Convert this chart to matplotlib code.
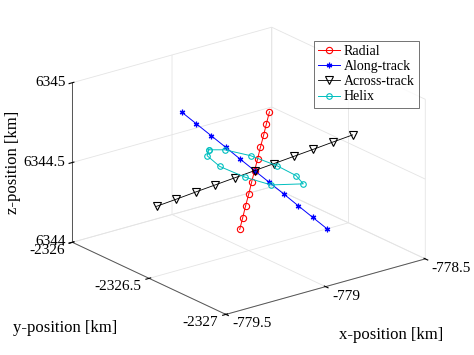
import numpy as np
import matplotlib
matplotlib.use('Agg')
import matplotlib.pyplot as plt
from matplotlib.ticker import FuncFormatter

# positions [km]
radial_x = [-778.914, -778.925, -778.937, -778.948, -778.960, -778.971,
            -778.982, -778.994, -779.005, -779.017, -779.028]
radial_y = [-2326.329, -2326.363, -2326.397, -2326.432, -2326.466, -2326.500,
            -2326.534, -2326.568, -2326.603, -2326.637, -2326.671]
radial_z = [6344.025, 6344.118, 6344.211, 6344.305, 6344.398, 6344.491,
            6344.584, 6344.677, 6344.771, 6344.864, 6344.957]

along_x = [-778.985, -778.982, -778.979, -778.976, -778.974, -778.971,
           -778.968, -778.965, -778.963, -778.960, -778.957]
along_y = [-2326.045, -2326.136, -2326.227, -2326.318, -2326.409, -2326.500,
           -2326.591, -2326.682, -2326.773, -2326.864, -2326.955]
along_z = [6344.656, 6344.623, 6344.590, 6344.557, 6344.524, 6344.491,
           6344.458, 6344.425, 6344.392, 6344.359, 6344.326]

across_x = [-779.458, -779.360, -779.263, -779.166, -779.068, -778.971,
            -778.874, -778.776, -778.679, -778.582, -778.484]
across_y = [-2326.494, -2326.495, -2326.496, -2326.497, -2326.499, -2326.500,
            -2326.501, -2326.503, -2326.504, -2326.505, -2326.506]
across_z = [6344.434, 6344.445, 6344.457, 6344.468, 6344.480, 6344.491,
            6344.502, 6344.514, 6344.525, 6344.537, 6344.548]

helix_x = [-779.045, -779.075, -779.075, -779.031, -778.972, -778.856,
           -778.847, -778.873, -778.924, -778.989, -779.045]
helix_y = [-2326.298, -2326.326, -2326.408, -2326.517, -2326.609, -2326.668,
           -2326.609, -2326.518, -2326.413, -2326.330, -2326.298]
helix_z = [6344.556, 6344.542, 6344.512, 6344.478, 6344.451, 6344.444,
           6344.466, 6344.496, 6344.529, 6344.551, 6344.556]

x_ticks = [-779.5, -779, -778.5]
y_ticks = [-2327, -2326.5, -2326]
z_ticks = [6344, 6344.5, 6345]

plt.rcParams['font.family'] = ['Liberation Serif', 'DejaVu Serif']
plt.rcParams['grid.color'] = '#e4e4e4'
plt.rcParams['grid.linewidth'] = 0.6
plt.rcParams['axes.edgecolor'] = '#555555'
plt.rcParams['axes.linewidth'] = 0.7

fig = plt.figure(figsize=(4.74, 3.55), dpi=100)
s = 355.0
ax = fig.add_axes([(244 - s / 2) / 474, (355 - 175.6 - s / 2) / 355, s / 474, s / 355],
                  projection='3d', proj_type='ortho')
ax.view_init(elev=21.2, azim=-127.6)
ax.set_box_aspect((1, 1, 0.68), zoom=1.08)

ax.plot(radial_x, radial_y, radial_z, color='r', lw=0.7, marker='o', ms=4.5,
        mfc='none', mew=0.8, label='Radial')
ax.plot(along_x, along_y, along_z, color='b', lw=0.7, marker=(6, 2, 0), ms=4,
        mew=0.9, label='Along-track')
ax.plot(across_x, across_y, across_z, color='k', lw=0.6, marker='v', ms=5.5,
        mfc='none', mew=0.8, label='Across-track')
ax.plot(helix_x, helix_y, helix_z, color='c', lw=0.7, marker='o', ms=4,
        mfc='none', mew=0.8, label='Helix')

ax.set_xlim(-779.5, -778.5)
ax.set_ylim(-2327, -2326)
ax.set_zlim(6344, 6345)
ax.set_xticks(x_ticks)
ax.set_yticks(y_ticks)
ax.set_zticks(z_ticks)
fmt = FuncFormatter(lambda v, p: f'{v:g}')
for axis in (ax.xaxis, ax.yaxis, ax.zaxis):
    axis.set_major_formatter(fmt)
    axis.set_pane_color((1, 1, 1, 0))
    axis.pane.set_edgecolor('#e4e4e4')
ax.tick_params(labelsize=11)
ax.xaxis.set_tick_params(pad=-2.5)
ax.yaxis.set_tick_params(pad=-3)
ax.zaxis.set_tick_params(pad=-5.5)
for lab in ax.xaxis.get_ticklabels():
    lab.set_horizontalalignment('left')
    lab.set_verticalalignment('center')
for lab in ax.yaxis.get_ticklabels():
    lab.set_horizontalalignment('right')
    lab.set_verticalalignment('center')
for lab in ax.zaxis.get_ticklabels():
    lab.set_horizontalalignment('right')
    lab.set_verticalalignment('center')
ax.grid(True)

fig.text(65 / 474, 1 - 328 / 355, 'y-position [km]', fontsize=12, ha='center', va='center')
fig.text(391 / 474, 1 - 335 / 355, 'x-position [km]', fontsize=12, ha='center', va='center')
fig.text(13 / 474, 1 - 162 / 355, 'z-position [km]', fontsize=12, ha='center', va='center',
         rotation=90)

leg = ax.legend(loc='upper left', bbox_to_anchor=(314 / 474, 1 - 41 / 355),
                bbox_transform=fig.transFigure, borderaxespad=0, fancybox=False,
                edgecolor='#333333', fontsize=10, handlelength=1.55,
                handletextpad=0.3, borderpad=0.3, labelspacing=0.15)
leg.get_frame().set_linewidth(0.6)

fig.savefig('out.png', dpi=100)
